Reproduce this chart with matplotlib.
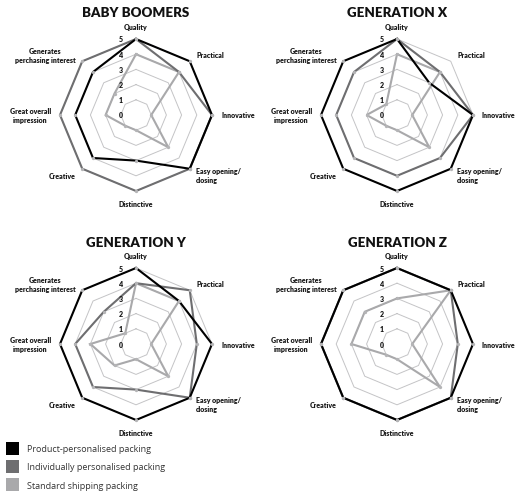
import numpy as np
import matplotlib
matplotlib.use("Agg")
import matplotlib.pyplot as plt
from matplotlib.patches import Patch

categories = ["Quality", "Practical", "Innovative", "Easy opening/\nclosing",
              "Distinctive", "Creative", "Great overall\nimpression",
              "Generates\nperchasing interest"]
series_names = ["Product-personalised packing", "Individually personalised packing",
                "Standard shipping packing"]
groups = ["BABY BOOMERS", "GENERATION X", "GENERATION Y", "GENERATION Z"]

boomers_product = [5, 5, 5, 5, 3, 4, 4, 4]
boomers_individual = [5, 4, 5, 5, 5, 5, 5, 5]
boomers_standard = [4, 4, 1, 3, 1, 1, 2, 2]

genx_product = [5, 3, 5, 5, 5, 5, 5, 5]
genx_individual = [5, 4, 5, 4, 4, 4, 4, 4]
genx_standard = [4, 4, 1, 3, 1, 1, 2, 1]

geny_product = [5, 4, 5, 5, 5, 5, 5, 5]
geny_individual = [4, 5, 4, 5, 3, 4, 4, 3]
geny_standard = [4, 4, 1, 3, 1, 2, 3, 1]

genz_product = [5, 5, 5, 5, 5, 5, 5, 5]
genz_individual = [5, 5, 4, 5, 5, 5, 5, 5]
genz_standard = [3, 5, 1, 4, 1, 1, 3, 3]

tick_values = [0, 1, 2, 3, 4, 5]

data = [
    (boomers_product, boomers_individual, boomers_standard),
    (genx_product, genx_individual, genx_standard),
    (geny_product, geny_individual, geny_standard),
    (genz_product, genz_individual, genz_standard),
]

colors = ["#000000", "#6e6e70", "#a9a9ab"]
grid_color = "#c4c4c6"
marker_color = "#b4b4b6"

W, H = 522, 502
fig = plt.figure(figsize=(W / 100, H / 100), dpi=100)

centers = [(136, 116), (397, 116), (136, 345), (397, 345)]
title_y = [13, 13, 243, 243]
R = 76  # pixels for value 5

n = len(categories)
theta = np.arange(n) * 2 * np.pi / n
theta_c = np.append(theta, theta[0])

label_font = dict(family=["Lato", "DejaVu Sans"], fontsize=5.0, fontweight="heavy", color="#1a1a1a")

for k, (cx, cy) in enumerate(centers):
    ax = fig.add_axes([(cx - R) / W, 1 - (cy + R) / H, 2 * R / W, 2 * R / H], projection="polar")
    ax.set_theta_zero_location("N")
    ax.set_theta_direction(-1)
    ax.set_ylim(0, 5)
    ax.set_xticks([])
    ax.set_yticks([])
    ax.grid(False)
    ax.spines["polar"].set_visible(False)
    ax.patch.set_alpha(0)

    for g in tick_values[1:]:
        ax.plot(theta_c, [g] * (n + 1), color=grid_color, lw=0.7, zorder=1, clip_on=False)

    for s in [2, 1, 0]:
        vals = list(data[k][s])
        vals.append(vals[0])
        ax.plot(theta_c, vals, color=colors[s], lw=1.5, zorder=2 + (2 - s), clip_on=False,
                solid_joinstyle="miter")
    for s in [2, 1, 0]:
        vals = list(data[k][s])
        ax.plot(theta, vals, ls="none", marker="o", ms=2.4, mfc=marker_color, mec="none",
                zorder=6, clip_on=False)

    for v in tick_values:
        ax.annotate(str(v), xy=(0, v), xytext=(-15, 0), textcoords="offset pixels",
                    ha="center", va="center", **label_font)

    for i, cat in enumerate(categories):
        ang = theta[i]
        dx = np.sin(ang)
        dy = np.cos(ang)
        off = 9
        if abs(dx) < 1e-6:
            ha = "center"
        elif dx > 0:
            ha = "left"
        else:
            ha = "right"
        if abs(dy) < 1e-6:
            va = "center"
        elif dy > 0.9:
            va = "bottom"
        elif dy < -0.9:
            va = "top"
        else:
            va = "center"
        ax.annotate(cat, xy=(ang, 5), xytext=(off * dx, off * dy), textcoords="offset pixels",
                    ha=ha, va=va, multialignment="center" if dx < 0 else "left",
                    linespacing=1.25, annotation_clip=False, **label_font)

    fig.text(cx / W, 1 - title_y[k] / H, groups[k], ha="center", va="center",
             family=["Lato", "DejaVu Sans"], fontsize=9.6, fontweight="heavy", color="#111111")

handles = [Patch(facecolor=c, edgecolor="none") for c in colors]
fig.legend(handles, series_names, loc="upper left", bbox_to_anchor=(6 / W, 1 - 443 / H),
           frameon=False, borderpad=0, borderaxespad=0, handlelength=1.45, handleheight=1.8,
           handletextpad=0.9, labelspacing=0.6,
           prop=dict(family=["Open Sans", "DejaVu Sans"], size=6.5), labelcolor="#333333")

fig.savefig("out.png", dpi=100, facecolor="white")
